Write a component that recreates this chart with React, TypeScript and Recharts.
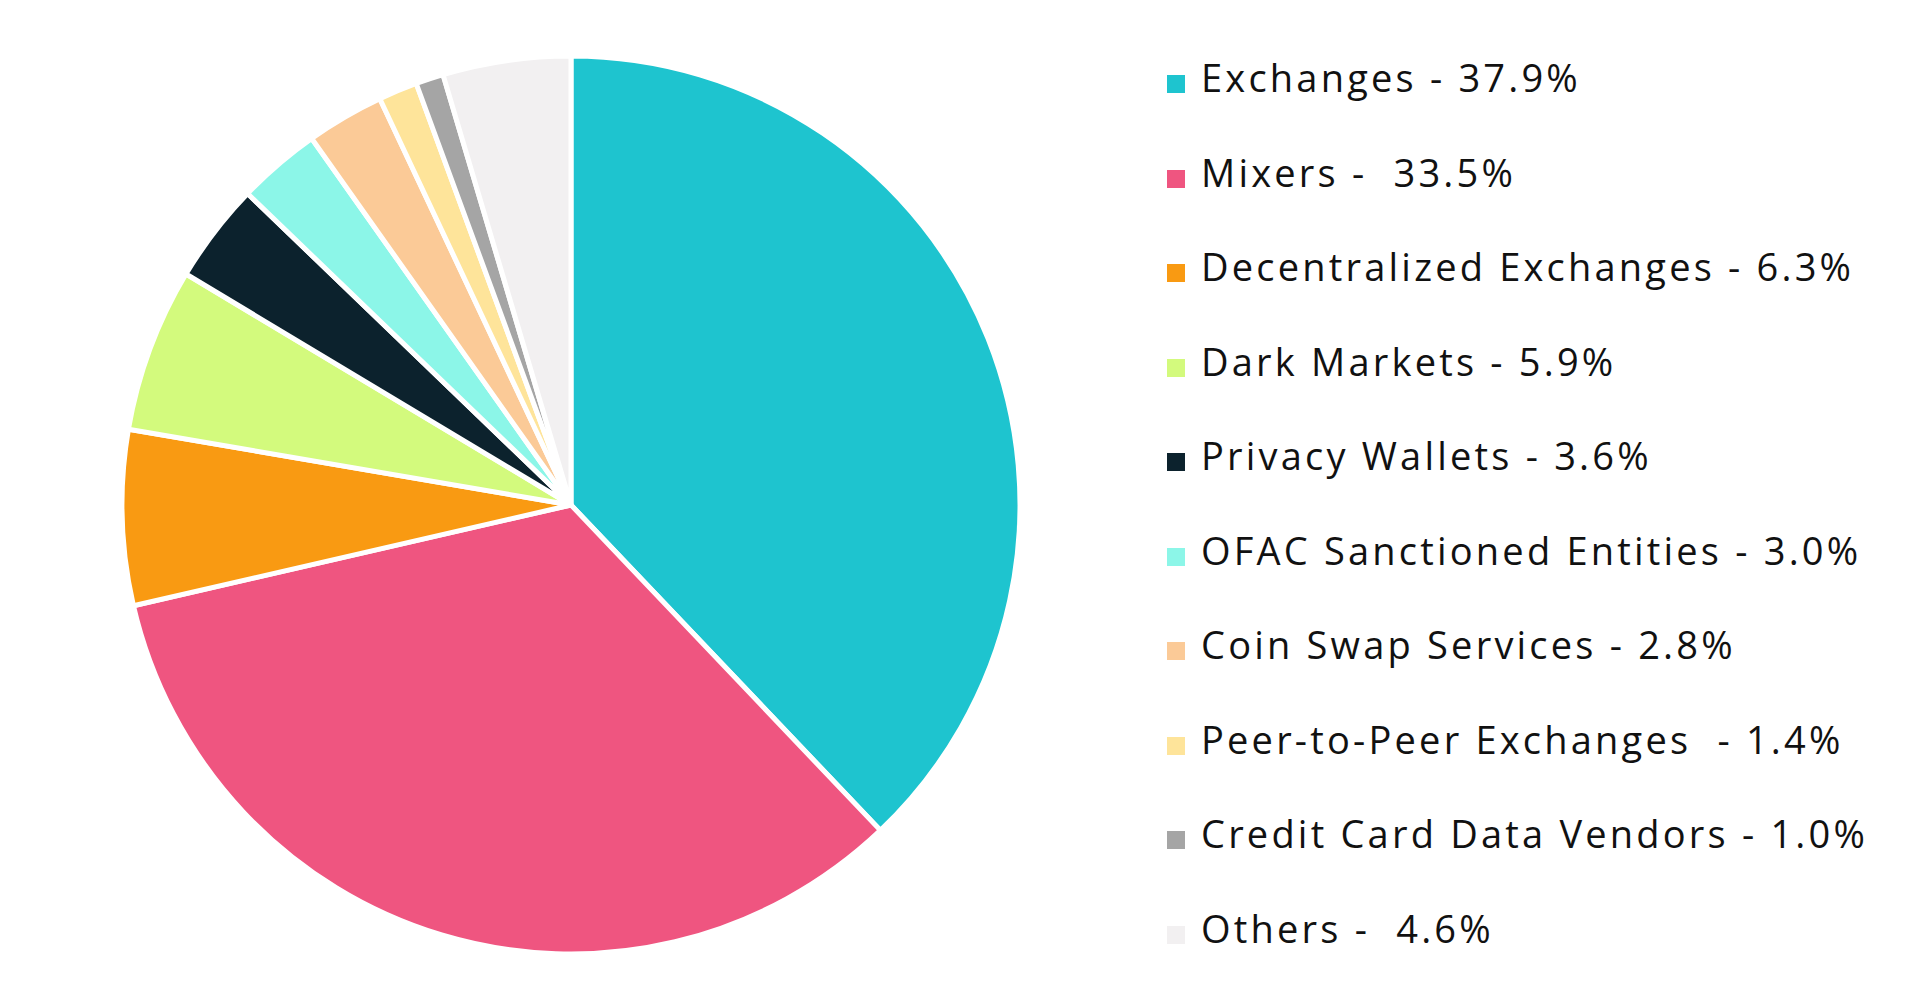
import React from 'react';
import { PieChart, Pie, Cell } from 'recharts';

// Share of illicit funds by destination type (percent)
const categories = [
  'Exchanges',
  'Mixers',
  'Decentralized Exchanges',
  'Dark Markets',
  'Privacy Wallets',
  'OFAC Sanctioned Entities',
  'Coin Swap Services',
  'Peer-to-Peer Exchanges',
  'Credit Card Data Vendors',
  'Others',
];
const shares = [37.9, 33.5, 6.3, 5.9, 3.6, 3.0, 2.8, 1.4, 1.0, 4.6];
const legendLabels = [
  'Exchanges - 37.9%',
  'Mixers -  33.5%',
  'Decentralized Exchanges - 6.3%',
  'Dark Markets - 5.9%',
  'Privacy Wallets - 3.6%',
  'OFAC Sanctioned Entities - 3.0%',
  'Coin Swap Services - 2.8%',
  'Peer-to-Peer Exchanges  - 1.4%',
  'Credit Card Data Vendors - 1.0%',
  'Others -  4.6%',
];
const colors = [
  '#1EC4CF',
  '#EF5580',
  '#F99A12',
  '#D3FA7D',
  '#0C222D',
  '#8CF6E8',
  '#FBCA97',
  '#FEE49A',
  '#A5A5A5',
  '#F2F0F1',
];

const data = categories.map((name, i) => ({ name, value: shares[i], label: legendLabels[i] }));

export default function App() {
  return (
    <div style={{ position: 'absolute', left: 0, top: 0, width: 1920, height: 1004, background: '#fff' }}>
      <PieChart width={1920} height={1004} margin={{ top: 0, right: 0, bottom: 0, left: 0 }}>
        <Pie
          data={data}
          dataKey="value"
          nameKey="name"
          cx={571}
          cy={505}
          outerRadius={449}
          startAngle={90}
          endAngle={-270}
          stroke="#fff"
          strokeWidth={5}
          isAnimationActive={false}
        >
          {data.map((d, i) => (
            <Cell key={d.name} fill={colors[i]} />
          ))}
        </Pie>
      </PieChart>
      {/* legend drawn beside the pie */}
      <div style={{ position: 'absolute', left: 1167, top: 30, fontFamily: '"Open Sans", sans-serif' }}>
        {data.map((d, i) => (
          <div key={d.name} style={{ display: 'flex', alignItems: 'center', height: 94.5 }}>
            <div style={{ width: 18, height: 18, background: colors[i], marginTop: 14, marginRight: 16 }} />
            <span style={{ fontSize: 38, letterSpacing: 3.2, color: '#111', whiteSpace: 'pre', lineHeight: '44px' }}>
              {d.label}
            </span>
          </div>
        ))}
      </div>
    </div>
  );
}
